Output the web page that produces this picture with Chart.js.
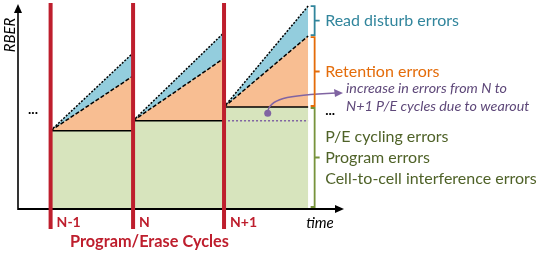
<!DOCTYPE html>
<html>
<head>
<meta charset="utf-8">
<script src="https://cdn.jsdelivr.net/npm/chart.js@4.4.1/dist/chart.umd.min.js"></script>
<style>
  html, body { margin: 0; padding: 0; background: #fff; }
  #wrap { width: 540px; height: 254px; }
</style>
</head>
<body>
<div id="wrap"><canvas id="rberChart" width="540" height="254"></canvas></div>
<script>
// P/E cycle boundaries on the time axis (0-100)
const cycles = ['N-1', 'N', 'N+1'];
const cycleStart = [10.0, 35.3, 63.2];
const cycleEnd = [35.3, 63.2, 89.0];

// RBER levels (0-100)
const baseErrors = [37.9, 42.8, 49.5];        // P/E cycling + program + cell-to-cell
const retentionTop = [64.7, 73.4, 84.3];     // at end of each cycle
const readDisturbTop = [76.0, 86.0, 99.0];   // at end of each cycle

// wearout annotation (time, RBER)
const wearoutDot = [76.6, 46.4];
const wearoutArrowTip = [99.7, 56.4];

const categoryLabels = {
    readDisturb: 'Read disturb errors',
    retention: 'Retention errors',
    base: ['P/E cycling errors', 'Program errors', 'Cell-to-cell interference errors'],
    wearout: ['increase in errors from N to', 'N+1 P/E cycles due to wearout']
};

const RED = '#BE1E2D';
const FONT = 'Lato, "Open Sans", sans-serif';

const datasets = [];

// read disturb wedges (drawn first, covered by the others)
cycles.forEach((c, i) => {
    datasets.push({
        data: [{ x: cycleStart[i], y: baseErrors[i] }, { x: cycleEnd[i], y: readDisturbTop[i] }],
        borderColor: '#000', borderWidth: 1.5, borderDash: [2, 1.5],
        backgroundColor: '#93CDDD', fill: 'origin', order: 30
    });
});
// retention wedges
cycles.forEach((c, i) => {
    datasets.push({
        data: [{ x: cycleStart[i], y: baseErrors[i] }, { x: cycleEnd[i], y: retentionTop[i] }],
        borderColor: '#000', borderWidth: 1.5, borderDash: [4, 2],
        backgroundColor: '#F8BE92', fill: 'origin', order: 20
    });
});
// base error steps
const basePoints = [];
cycles.forEach((c, i) => {
    basePoints.push({ x: cycleStart[i], y: baseErrors[i] });
    basePoints.push({ x: cycleEnd[i], y: baseErrors[i] });
});
datasets.push({
    data: basePoints, borderColor: '#000', borderWidth: 1.5,
    backgroundColor: '#D7E4BD', fill: 'origin', order: 10
});
// previous cycle level, dotted purple
datasets.push({
    data: [{ x: cycleStart[2], y: baseErrors[1] }, { x: cycleEnd[2], y: baseErrors[1] }],
    borderColor: '#8064A2', borderWidth: 1.5, borderDash: [2, 2], fill: false, order: 5
});
// wearout dot
datasets.push({
    data: [{ x: wearoutDot[0], y: wearoutDot[1] }],
    showLine: false, pointRadius: 3.5, pointBackgroundColor: '#8064A2', pointBorderWidth: 0, order: 4
});
// P/E cycle marker lines
cycleStart.forEach(x => {
    datasets.push({
        data: [{ x: x, y: -10.3 }, { x: x, y: 100.5 }],
        borderColor: RED, borderWidth: 4, fill: false, clip: false, order: 1
    });
});

const decorations = {
    id: 'decorations',
    beforeDatasetsDraw(chart) {
        const { ctx, chartArea: a } = chart;
        ctx.save();
        ctx.strokeStyle = '#000';
        ctx.fillStyle = '#000';
        ctx.lineWidth = 1.6;
        // y axis
        ctx.beginPath(); ctx.moveTo(a.left, a.bottom + 2); ctx.lineTo(a.left, a.top + 8); ctx.stroke();
        ctx.beginPath(); ctx.moveTo(a.left, a.top); ctx.lineTo(a.left - 4, a.top + 9); ctx.lineTo(a.left + 4, a.top + 9); ctx.closePath(); ctx.fill();
        // x axis
        ctx.lineWidth = 2;
        ctx.beginPath(); ctx.moveTo(a.left, a.bottom + 1); ctx.lineTo(a.right - 8, a.bottom + 1); ctx.stroke();
        ctx.beginPath(); ctx.moveTo(a.right, a.bottom + 1); ctx.lineTo(a.right - 9, a.bottom - 3); ctx.lineTo(a.right - 9, a.bottom + 5); ctx.closePath(); ctx.fill();
        ctx.restore();
    },
    afterDraw(chart) {
        const { ctx } = chart;
        const xs = chart.scales.x, ys = chart.scales.y;
        const px = v => xs.getPixelForValue(v), py = v => ys.getPixelForValue(v);
        ctx.save();

        // wearout arrow
        const fx = px(wearoutDot[0]), fy = py(wearoutDot[1]);
        const tx = px(wearoutArrowTip[0]), ty = py(wearoutArrowTip[1]);
        ctx.strokeStyle = '#8064A2'; ctx.fillStyle = '#8064A2'; ctx.lineWidth = 1.5;
        ctx.beginPath(); ctx.moveTo(fx, fy);
        ctx.bezierCurveTo(fx, ty + 6, fx + (tx - fx) * 0.25, ty + 2, tx - 7, ty);
        ctx.stroke();
        ctx.beginPath(); ctx.moveTo(tx, ty); ctx.lineTo(tx - 9, ty - 4); ctx.lineTo(tx - 8, ty + 4); ctx.closePath(); ctx.fill();

        // brackets for the N+1 cycle
        const endX = px(cycleEnd[2]);
        const bracket = (top, bottom, color) => {
            const bx = endX + 6.5, mid = (top + bottom) / 2;
            ctx.strokeStyle = color; ctx.lineWidth = 1.8;
            ctx.beginPath();
            ctx.moveTo(bx - 4, top); ctx.lineTo(bx, top); ctx.lineTo(bx, bottom); ctx.lineTo(bx - 4, bottom);
            ctx.moveTo(bx, mid); ctx.lineTo(bx + 5, mid);
            ctx.stroke();
            return mid;
        };
        const m1 = bracket(py(readDisturbTop[2]), py(retentionTop[2]) - 1, '#31859C');
        const m2 = bracket(py(retentionTop[2]) + 1, py(baseErrors[2]) - 1, '#E46C0A');
        const m3 = bracket(py(baseErrors[2]) + 1, py(0) - 1, '#77933C');

        const textX = endX + 17;
        ctx.textBaseline = 'middle'; ctx.textAlign = 'left';
        ctx.font = '16px ' + FONT;
        ctx.fillStyle = '#31859C'; ctx.fillText(categoryLabels.readDisturb, textX, m1);
        ctx.fillStyle = '#E46C0A'; ctx.fillText(categoryLabels.retention, textX, m2);
        ctx.fillStyle = '#4F6228';
        categoryLabels.base.forEach((t, i) => ctx.fillText(t, textX, m3 - 21 + i * 21));

        ctx.fillStyle = '#5F497A';
        ctx.font = 'italic 14.3px ' + FONT;
        categoryLabels.wearout.forEach((t, i) => ctx.fillText(t, tx + 3, ty - 5 + i * 18));

        ctx.fillStyle = '#000';
        ctx.font = 'bold 14px ' + FONT;
        ctx.fillText('...', textX, py(baseErrors[2]) + 3);
        ctx.fillText('...', 28, 109);

        // cycle labels
        ctx.fillStyle = RED;
        ctx.font = 'bold 14px ' + FONT;
        cycles.forEach((c, i) => ctx.fillText(c, px(cycleStart[i]) + 6, 222));
        ctx.font = 'bold 16.3px ' + FONT;
        ctx.textAlign = 'center';
        ctx.fillText('Program/Erase Cycles', 149.5, 242);

        // axis titles
        ctx.fillStyle = '#000';
        ctx.font = 'italic 15px ' + FONT;
        ctx.fillText('time', 320, 223);
        ctx.translate(10, 35); ctx.rotate(-Math.PI / 2);
        ctx.fillText('RBER', 0, 0);
        ctx.restore();
    }
};

new Chart(document.getElementById('rberChart'), {
    type: 'line',
    data: { datasets: datasets },
    options: {
        responsive: false,
        animation: false,
        layout: { padding: { left: 18, top: 4, right: 196, bottom: 46 } },
        elements: { point: { radius: 0 }, line: { tension: 0 } },
        plugins: { legend: { display: false }, tooltip: { enabled: false } },
        scales: {
            x: { type: 'linear', min: 0, max: 100, display: false },
            y: { type: 'linear', min: 0, max: 100, display: false }
        }
    },
    plugins: [decorations]
});
</script>
</body>
</html>
